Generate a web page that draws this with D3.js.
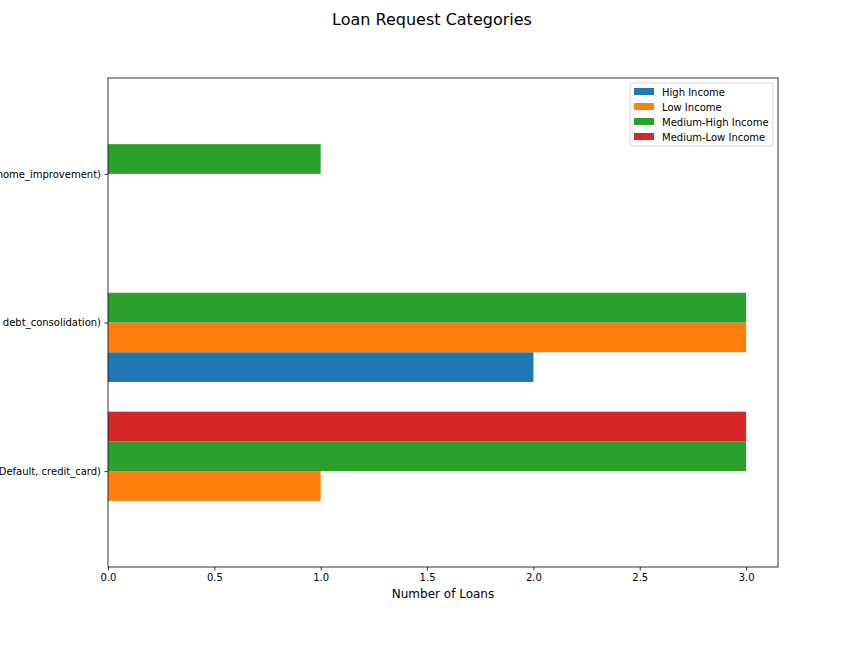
<!DOCTYPE html>
<html>
<head>
<meta charset="utf-8">
<script src="https://cdn.jsdelivr.net/npm/d3@7.9.0/dist/d3.min.js"></script>
<style>
  html, body { margin: 0; padding: 0; background: #fff; overflow: hidden; }
  svg { display: block; font-family: "DejaVu Sans", sans-serif; }
</style>
</head>
<body>
<div id="chart"></div>
<script>
// --- Data ---
const categories = ['(Default, credit_card)', '(Default, debt_consolidation)', '(Default, home_improvement)'];
const seriesNames = ['High Income', 'Low Income', 'Medium-High Income', 'Medium-Low Income'];
const seriesColors = ['#1f77b4', '#ff7f0e', '#2ca02c', '#d62728'];
// one array per series, in category order
const highIncome = [0, 2, 0];
const lowIncome = [1, 3, 0];
const mediumHighIncome = [3, 3, 1];
const mediumLowIncome = [3, 0, 0];
const xTicks = [0, 0.5, 1.0, 1.5, 2.0, 2.5, 3.0];

const seriesValues = [highIncome, lowIncome, mediumHighIncome, mediumLowIncome];

// --- Layout ---
const width = 864;
const height = 648;
const margin = { top: 78, right: 86, bottom: 81, left: 108 };
const plot = {
  left: margin.left,
  right: width - margin.right,
  top: margin.top,
  bottom: height - margin.bottom,
};

const svg = d3.select('#chart')
  .append('svg')
  .attr('width', width)
  .attr('height', height);

// x: number of loans
const xScale = d3.scaleLinear()
  .domain([0, 3.15])
  .range([plot.left, plot.right]);

// y: category index, 0 at the bottom (like matplotlib barh)
const yScale = d3.scaleLinear()
  .domain([-0.645, 2.645])
  .range([plot.bottom, plot.top]);

const barHeight = 0.2;
const offsets = [-0.3, -0.1, 0.1, 0.3];

// bars
seriesValues.forEach((vals, s) => {
  svg.append('g')
    .selectAll('rect')
    .data(vals)
    .join('rect')
    .attr('x', xScale(0))
    .attr('y', (d, i) => yScale(i + offsets[s] + barHeight / 2))
    .attr('width', d => xScale(d) - xScale(0))
    .attr('height', yScale(0) - yScale(barHeight))
    .attr('fill', seriesColors[s]);
});

// axes
const xAxis = d3.axisBottom(xScale)
  .tickValues(xTicks)
  .tickFormat(d3.format('.1f'))
  .tickSizeInner(3.5)
  .tickSizeOuter(0)
  .tickPadding(3.5);

const yAxis = d3.axisLeft(yScale)
  .tickValues(d3.range(categories.length))
  .tickFormat(i => categories[i])
  .tickSizeInner(3.5)
  .tickSizeOuter(0)
  .tickPadding(3.5);

const gx = svg.append('g')
  .attr('transform', `translate(0, ${plot.bottom})`)
  .call(xAxis);
const gy = svg.append('g')
  .attr('transform', `translate(${plot.left}, 0)`)
  .call(yAxis);

[gx, gy].forEach(g => {
  g.select('.domain').remove();
  g.selectAll('text').attr('font-size', 10).attr('fill', '#000').attr('font-family', '"DejaVu Sans", sans-serif');
  g.selectAll('line').attr('stroke', '#000').attr('stroke-width', 0.8);
});

// frame
svg.append('rect')
  .attr('x', plot.left)
  .attr('y', plot.top)
  .attr('width', plot.right - plot.left)
  .attr('height', plot.bottom - plot.top)
  .attr('fill', 'none')
  .attr('stroke', '#000')
  .attr('stroke-width', 0.8);

// labels
svg.append('text')
  .attr('x', (plot.left + plot.right) / 2)
  .attr('y', plot.bottom + 31)
  .attr('text-anchor', 'middle')
  .attr('font-size', 12)
  .text('Number of Loans');

svg.append('text')
  .attr('x', width / 2)
  .attr('y', 25)
  .attr('text-anchor', 'middle')
  .attr('font-size', 16)
  .text('Loan Request Categories');

// legend
const legend = svg.append('g')
  .attr('transform', `translate(${plot.right - 148}, ${plot.top + 5})`);

legend.append('rect')
  .attr('width', 143)
  .attr('height', 63)
  .attr('rx', 2)
  .attr('fill', '#fff')
  .attr('fill-opacity', 0.8)
  .attr('stroke', '#ccc')
  .attr('stroke-width', 0.8);

seriesNames.forEach((name, s) => {
  const row = legend.append('g')
    .attr('transform', `translate(0, ${5 + s * 15})`);
  row.append('rect')
    .attr('x', 4)
    .attr('y', 0)
    .attr('width', 20)
    .attr('height', 7)
    .attr('fill', seriesColors[s]);
  row.append('text')
    .attr('x', 32)
    .attr('y', 7.5)
    .attr('font-size', 10)
    .text(name);
});
</script>
</body>
</html>
